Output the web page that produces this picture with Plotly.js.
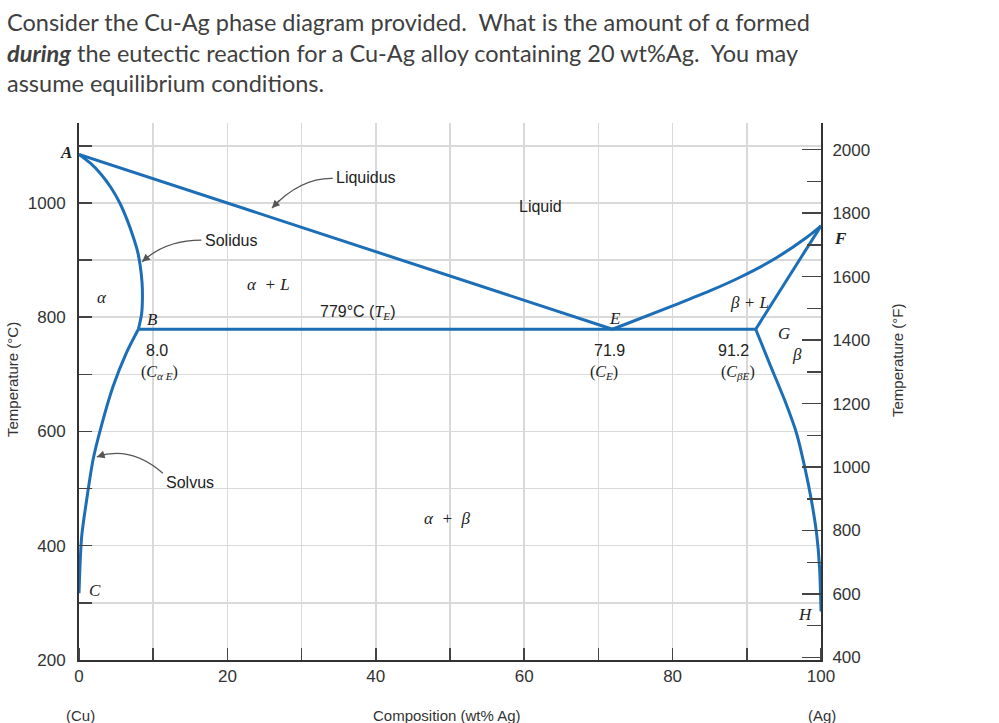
<!DOCTYPE html>
<html>
<head>
<meta charset="utf-8">
<script src="https://cdn.plot.ly/plotly-3.0.1.min.js"></script>
<style>html,body{margin:0;padding:0;background:#fff;}#chart{width:999px;height:723px;}</style>
</head>
<body>
<div id="chart"></div>
<script>
// ---- data (composition wt% Ag, temperature °C) ----
const liquidusAlphaX = [0, 71.9];
const liquidusAlphaT = [1085, 779];
const solidusAlphaX = [0, 1.5, 3.0, 4.3, 5.5, 6.5, 7.3, 7.9, 8.25, 8.5, 8.55, 8.45, 8.2, 8.0];
const solidusAlphaT = [1085, 1070, 1050, 1027, 1000, 970, 941, 915, 890, 860, 835, 807, 790, 779];
const solvusAlphaX = [8.0, 6.4, 4.6, 3.0, 1.9, 1.03, 0.36, 0];
const solvusAlphaT = [779, 738, 679, 609, 551, 480, 416, 317];
const eutecticX = [8.0, 91.2];
const eutecticT = [779, 779];
const liquidusBetaX = [71.9, 80, 85, 89.1, 93.6, 98.1, 100];
const liquidusBetaT = [779, 820, 846, 870, 901, 940, 960];
const solidusBetaX = [91.2, 100];
const solidusBetaT = [779, 960];
const solvusBetaX = [91.2, 93.1, 95.1, 96.7, 97.8, 98.7, 99.4, 99.8, 100];
const solvusBetaT = [779, 718, 655, 597, 538, 480, 422, 363, 285];

const xTickVals = [0, 20, 40, 60, 80, 100];
const cTickVals = [200, 400, 600, 800, 1000];
const fTickVals = [400, 600, 800, 1000, 1200, 1400, 1600, 1800, 2000];
const tempRangeC = [200, 1140];

const blue = '#1c6eb6';
const serif = 'Liberation Serif, DejaVu Serif, serif';
const sans = 'Liberation Sans, Arial, sans-serif';

function curve(x, y, spline) {
  return {x: x, y: y, type: 'scatter', mode: 'lines', hoverinfo: 'skip',
    line: {color: blue, width: 3, shape: spline ? 'spline' : 'linear', smoothing: 0.8},
    showlegend: false, xaxis: 'x', yaxis: 'y'};
}
const traces = [
  curve(liquidusAlphaX, liquidusAlphaT, false),
  curve(solidusAlphaX, solidusAlphaT, true),
  curve(solvusAlphaX, solvusAlphaT, true),
  curve(eutecticX, eutecticT, false),
  curve(liquidusBetaX, liquidusBetaT, true),
  curve(solidusBetaX, solidusBetaT, false),
  curve(solvusBetaX, solvusBetaT, true),
  {x: [50], y: [tempRangeC[0] * 1.8 + 32], type: 'scatter', mode: 'markers',
   marker: {opacity: 0}, hoverinfo: 'skip', showlegend: false, xaxis: 'x', yaxis: 'y2'}
];

function lab(text, x, y, opts) {
  return Object.assign({text: text, x: x, y: y, xref: 'x', yref: 'y', showarrow: false,
    font: {family: sans, size: 16, color: '#222'}}, opts || {});
}
function it(text, x, y, size, bold) {
  return lab(bold ? '<b><i>' + text + '</i></b>' : '<i>' + text + '</i>', x, y,
    {font: {family: serif, size: size || 17, color: '#222'}});
}
function pit(text, px, py) {
  return {text: '<b><i>' + text + '</i></b>', xref: 'paper', yref: 'paper',
    x: (px - 79) / 742, y: (660 - py) / 537, xanchor: 'center', yanchor: 'middle',
    showarrow: false, font: {family: serif, size: 17, color: '#222'}};
}
function arrowHead(x, y, ax, ay) {
  return {x: x, y: y, ax: ax, ay: ay, xref: 'x', yref: 'y', axref: 'x', ayref: 'y', text: '',
    showarrow: true, arrowhead: 2, arrowsize: 1.2, arrowwidth: 1.3, arrowcolor: '#555'};
}
const qFont = {family: 'Lato, sans-serif', size: 23.5, color: '#404040'};
function q(text, py) {
  return {text: text, xref: 'paper', yref: 'paper', x: (5 - 79) / 742, y: (660 - py) / 537,
    xanchor: 'left', yanchor: 'middle', showarrow: false, font: qFont, align: 'left'};
}
function ptxt(text, px, py, angle) {
  return {text: text, xref: 'paper', yref: 'paper', x: (px - 79) / 742, y: (660 - py) / 537,
    xanchor: 'center', yanchor: 'middle', textangle: angle || 0, showarrow: false,
    font: {family: sans, size: 15, color: '#333'}};
}

const annotations = [
  q('Consider the Cu-Ag phase diagram provided.\u00a0 What is the amount of α formed', 22),
  q('<b><i>during</i></b> the eutectic reaction for a Cu-Ag alloy containing 20 wt%Ag.\u00a0 You may', 53),
  q('assume equilibrium conditions.', 83),
  lab('Liquidus', 34.3, 1045, {xanchor: 'left'}),
  lab('Liquid', 62.2, 994),
  lab('Solidus', 16.7, 934, {xanchor: 'left'}),
  lab('Solvus', 14.9, 511),
  it('α  + L', 25.6, 858),
  it('α', 3.1, 835),
  it('B', 9.9, 796),
  lab('779°C (<i><span style="font-family:Liberation Serif">T</span></i><sub><i><span style="font-family:Liberation Serif">E</span></i></sub>)', 37.6, 808),
  it('E', 72.2, 798, 17),
  it('β + L', 90.4, 825),
  it('G', 95.0, 772),
  it('β', 96.7, 735),
  lab('8.0', 10.5, 742),
  lab('(<i>C</i><sub><i>α E</i></sub>)', 10.9, 704, {font: {family: serif, size: 16, color: '#222'}}),
  lab('71.9', 71.5, 742),
  lab('(<i>C</i><sub><i>E</i></sub>)', 70.8, 704, {font: {family: serif, size: 16, color: '#222'}}),
  lab('91.2', 88.2, 742),
  lab('(<i>C</i><sub><i>βE</i></sub>)', 88.8, 704, {font: {family: serif, size: 16, color: '#222'}}),
  it('α  +  β', 49.6, 448),
  it('C', 2.1, 322),
  it('H', 97.9, 279),
  pit('A', 66, 152),
  pit('F', 840, 238),
  arrowHead(26.0, 991, 27.2, 1007),
  arrowHead(8.5, 897, 9.5, 908),
  arrowHead(2.4, 555.5, 3.7, 561),
  ptxt('Temperature (°C)', 12, 380, -90),
  ptxt('Temperature (°F)', 897, 360, -90),
  ptxt('(Cu)', 80, 716),
  ptxt('Composition (wt% Ag)', 447, 716),
  ptxt('(Ag)', 822, 716)
];

const shapes = [
  {type: 'path', xref: 'x', yref: 'y', path: 'M 34.2,1043 Q 29.8,1044 26.0,991', line: {color: '#555', width: 1.3}},
  {type: 'path', xref: 'x', yref: 'y', path: 'M 16.5,935 Q 11.6,935 8.5,897', line: {color: '#555', width: 1.3}},
  {type: 'path', xref: 'x', yref: 'y', path: 'M 11.3,527 Q 6.9,576 2.4,555.5', line: {color: '#555', width: 1.3}}
];

const grid = '#d9d9d9';
const layout = {
  width: 999, height: 723,
  margin: {l: 79, r: 178, t: 123, b: 63},
  paper_bgcolor: '#fff', plot_bgcolor: '#fff',
  showlegend: false,
  font: {family: sans, size: 17, color: '#333'},
  xaxis: {range: [0, 100], tickvals: xTickVals, ticks: '', showgrid: true, gridcolor: grid, gridwidth: 1.5,
    showline: true, linecolor: '#333', linewidth: 2, zeroline: false, ticklabelstandoff: 0,
    tickfont: {family: sans, size: 17, color: '#333'},
    minor: {dtick: 10, tick0: 0, ticks: 'inside', ticklen: 12, tickcolor: '#444', tickwidth: 1.5,
      showgrid: true, gridcolor: grid, gridwidth: 1.5}},
  yaxis: {range: tempRangeC, tickvals: cTickVals, ticks: 'inside', ticklen: 13, tickcolor: '#444', tickwidth: 1.5,
    showgrid: true, gridcolor: grid, gridwidth: 1.5, showline: true, linecolor: '#333', linewidth: 2,
    zeroline: false, ticklabelstandoff: 8, tickfont: {family: sans, size: 17, color: '#333'},
    minor: {dtick: 100, tick0: 200, ticks: 'inside', ticklen: 13, tickcolor: '#444', tickwidth: 1.5,
      showgrid: true, gridcolor: grid, gridwidth: 1.5}},
  yaxis2: {range: [tempRangeC[0] * 1.8 + 32, tempRangeC[1] * 1.8 + 32], overlaying: 'y', side: 'right',
    tickvals: fTickVals, ticks: 'inside', ticklen: 19, tickcolor: '#444', tickwidth: 1.5,
    showgrid: false, showline: true, linecolor: '#333', linewidth: 2, zeroline: false, ticklabelstandoff: 6,
    tickfont: {family: sans, size: 17, color: '#333'},
    minor: {dtick: 100, tick0: 400, ticks: 'inside', ticklen: 14, tickcolor: '#444', tickwidth: 1.5, showgrid: false}},
  annotations: annotations,
  shapes: shapes
};

Plotly.newPlot('chart', traces, layout, {staticPlot: true, displayModeBar: false});
</script>
</body>
</html>
